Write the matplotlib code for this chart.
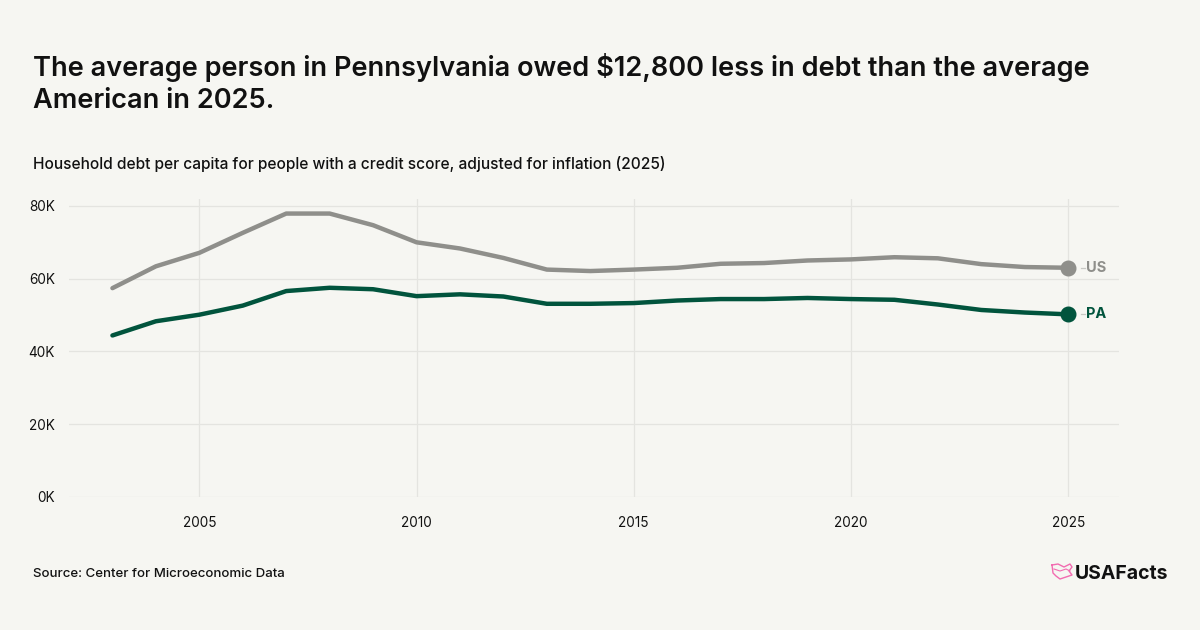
import matplotlib
matplotlib.use("Agg")
import matplotlib.pyplot as plt
from matplotlib.lines import Line2D

years = list(range(2003, 2026))
us_debt = [57.4, 63.4, 67.1, 72.6, 77.9, 77.9, 74.7, 70.0, 68.3, 65.7, 62.5, 62.1,
           62.5, 63.0, 64.1, 64.3, 65.0, 65.3, 65.9, 65.6, 64.0, 63.2, 63.0]
pa_debt = [44.4, 48.3, 50.1, 52.6, 56.6, 57.5, 57.1, 55.2, 55.7, 55.1, 53.1, 53.1,
           53.3, 54.0, 54.4, 54.4, 54.7, 54.4, 54.2, 52.9, 51.4, 50.7, 50.2]
y_ticks = [0, 20, 40, 60, 80]
y_tick_labels = ["0K", "20K", "40K", "60K", "80K"]
x_ticks = [2005, 2010, 2015, 2020, 2025]
series_labels = ["US", "PA"]

title = "The average person in Pennsylvania owed $12,800 less in debt than the average\nAmerican in 2025."
subtitle = "Household debt per capita for people with a credit score, adjusted for inflation (2025)"
source = "Source: Center for Microeconomic Data"

BG = "#f6f6f2"
GRID = "#e4e4e0"
US_C = "#8f8f8b"
PA_C = "#01543d"
TXT = "#111111"
FONT = ["Inter", "DejaVu Sans"]

plt.rcParams["font.family"] = FONT

fig = plt.figure(figsize=(12, 6.3), dpi=100, facecolor=BG)
W, H = 1200, 630

def fx(px):
    return px / W

def fy(py):
    return 1 - py / H

ax = fig.add_axes([fx(69), fy(497), fx(1119) - fx(69), fy(199) - fy(497)])
ax.set_facecolor(BG)
ax.set_xlim(2002.0, 2026.17)
ax.set_ylim(0, 81.9)

for s in ax.spines.values():
    s.set_visible(False)
ax.set_yticks(y_ticks)
ax.set_yticklabels(y_tick_labels)
ax.set_xticks(x_ticks)
ax.set_xticklabels([str(x) for x in x_ticks])
ax.tick_params(axis="both", length=0, labelsize=9.8, colors=TXT)
ax.tick_params(axis="x", pad=14)
ax.tick_params(axis="y", pad=10)
ax.grid(True, color=GRID, linewidth=0.9)
ax.set_axisbelow(True)

ax.plot(years, us_debt, color=US_C, linewidth=3.2, solid_capstyle="round", zorder=3)
ax.plot(years, pa_debt, color=PA_C, linewidth=3.2, solid_capstyle="round", zorder=3)
ax.plot([years[-1]], [us_debt[-1]], "o", color=US_C, markersize=10.5, zorder=4)
ax.plot([years[-1]], [pa_debt[-1]], "o", color=PA_C, markersize=10.5, zorder=4)

for lab, val, col in [(series_labels[0], us_debt[-1], US_C), (series_labels[1], pa_debt[-1], PA_C)]:
    ax.plot([years[-1] + 0.3, years[-1] + 0.38], [val, val], color="#c8c8c4", linewidth=0.9,
            zorder=3, clip_on=False)
    ax.text(years[-1] + 0.42, val, lab, color=col, fontsize=10.5, fontweight="bold",
            va="center", ha="left", zorder=5)

# Title, fitted to reference width
t = fig.text(fx(33), fy(53), title, fontsize=20, fontweight="semibold", color=TXT,
             va="top", ha="left", linespacing=1.3)
fig.canvas.draw()
r = fig.canvas.get_renderer()
bb = t.get_window_extent(r)
t.set_fontsize(20 * 1057 / bb.width)

st = fig.text(fx(33), fy(169), subtitle, fontsize=11.5, fontweight="medium", color=TXT,
              va="baseline", ha="left")
fig.canvas.draw()
bb = st.get_window_extent(r)
st.set_fontsize(11.5 * 631 / bb.width)

sr = fig.text(fx(33), fy(577), source, fontsize=9.5, fontweight="medium", color=TXT,
              va="baseline", ha="left")
fig.canvas.draw()
bb = sr.get_window_extent(r)
sr.set_fontsize(9.5 * 252 / bb.width)

# Logo
lg = fig.text(fx(1168), fy(579), "USAFacts", fontsize=14, fontweight="bold", color=TXT,
              va="baseline", ha="right")
icon_x = [1052, 1058, 1064, 1070, 1072, 1069, 1072, 1066, 1060, 1056, 1053, 1052]
icon_y = [565, 564, 567, 564, 567, 571, 575, 577, 579, 576, 573, 565]
fig.add_artist(Line2D([fx(v) for v in icon_x], [fy(v) for v in icon_y], color="#f26bb0",
                      linewidth=1.0, transform=fig.transFigure))
fig.add_artist(Line2D([fx(1054), fx(1060), fx(1066), fx(1070)], [fy(569), fy(571), fy(569), fy(571)],
                      color="#f26bb0", linewidth=0.8, transform=fig.transFigure))

fig.savefig("out.png", dpi=100, facecolor=BG)
